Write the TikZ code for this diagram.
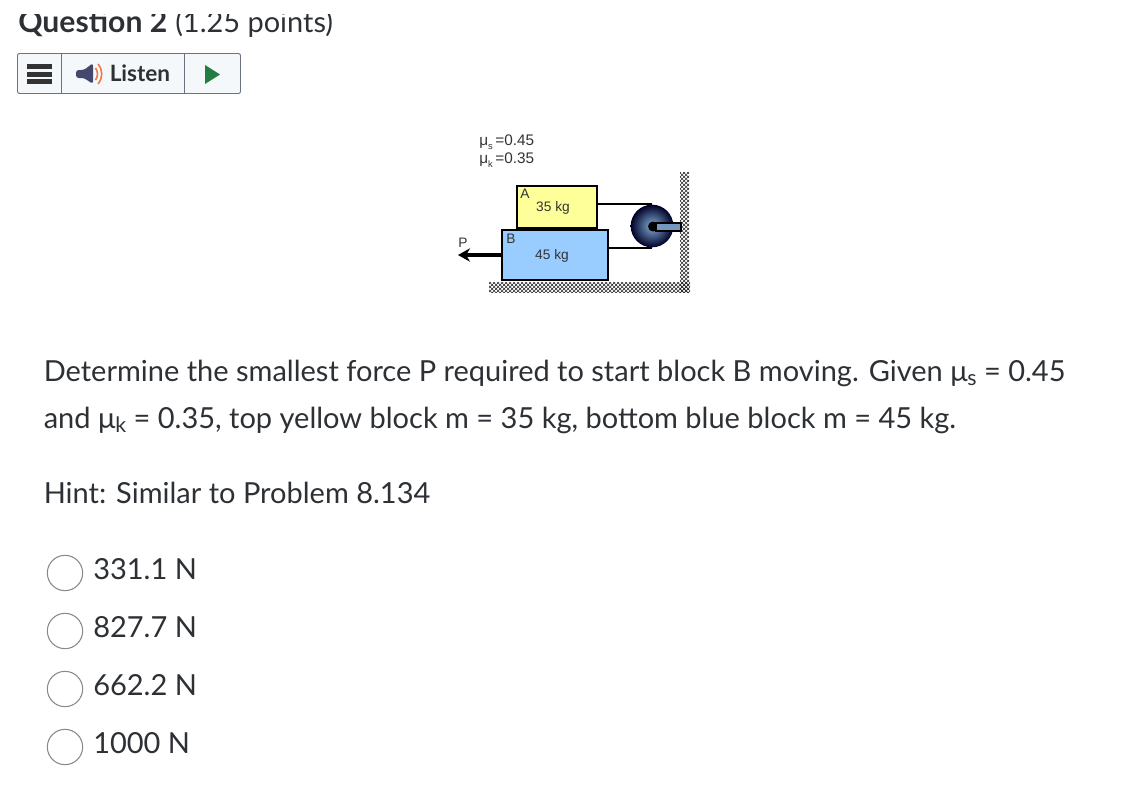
\documentclass[tikz,border=0pt]{standalone}
\usepackage{fontspec}
\setmainfont{Lato}
\newfontfamily\figfont{Liberation Sans}
\usetikzlibrary{patterns,shadings,arrows.meta}
\definecolor{txtcol}{HTML}{2D3135}
\definecolor{barline}{HTML}{6B7280}
\definecolor{barfill}{HTML}{F5F8FB}
\definecolor{spkcol}{HTML}{44476E}
\definecolor{wavecol}{HTML}{EE7B45}
\definecolor{playcol}{HTML}{217E40}
\definecolor{blocka}{HTML}{FFFF99}
\definecolor{blockb}{HTML}{99CCFF}
\definecolor{radiocol}{HTML}{868B90}
\newcommand{\musub}[1]{μ\raisebox{-3.6pt}{\fontsize{16}{18}\selectfont #1}}
\tikzset{
  body/.style={anchor=base west,inner sep=0pt,text=txtcol,font=\fontsize{21.75}{25}\selectfont},
  small/.style={inner sep=0pt,text=black!80,font=\figfont\fontsize{10.3}{12}\selectfont},
  blockbox/.style={draw=black,line width=1.6pt,inner sep=0pt},
  hatchbar/.style={pattern=crosshatch,pattern color=black!85},
  radio/.style={circle,draw=radiocol,fill=white,line width=0.8pt,minimum size=26.5pt,inner sep=0pt}
}
\begin{document}
\begin{tikzpicture}[x=0.75pt,y=-0.75pt]
\useasboundingbox (0,0) rectangle (1132,797);
\clip (0,0) rectangle (1132,797);
% heading
\node[body,font=\fontsize{22.6}{25}\selectfont\bfseries] (head) at (18,32.5) {Question 2};
\node[body,font=\fontsize{21.7}{25}\selectfont] (pts) at (175,32.5) {(1.25 points)};
\fill[white] (0,0) rectangle (400,14);
% toolbar
\draw[draw=barline,fill=barfill,line width=0.7pt,rounded corners=1.5pt] (17.5,53.5) rectangle (240.5,93.5);
\draw[barline,line width=0.7pt] (61.5,53.5) -- (61.5,93.5);
\draw[barline,line width=0.7pt] (184.5,53.5) -- (184.5,93.5);
\foreach \y in {64,71.5,79}
\fill[black!80] (27,\y) rectangle (52,\y+5);
\fill[spkcol,rounded corners=2pt] (76,70) -- (84,70) -- (93,63) -- (93,84) -- (84,78) -- (76,78) -- cycle;
\draw[wavecol,line width=1.2pt] (95.5,68) to[bend left=35] (95.5,80);
\draw[wavecol,line width=1.2pt] (98,64) to[bend left=40] (98,84);
\node[body,font=\fontsize{16.9}{18}\selectfont\bfseries] (listen) at (109.5,81) {Listen};
\fill[playcol] (205,65) -- (220,74.5) -- (205,84) -- cycle;
% figure
\node[small,anchor=base west,font=\figfont\fontsize{11.5}{13}\selectfont] (mus) at (479,145) {\musub{\fontsize{7}{8}\selectfont s}\,=0.45};
\node[small,anchor=base west,font=\figfont\fontsize{11.5}{13}\selectfont] (muk) at (479,163) {\musub{\fontsize{7}{8}\selectfont k}\,=0.35};
\path[hatchbar] (489,282) rectangle (690,292);
\path[hatchbar] (680,172) rectangle (689,292);
\node[blockbox,fill=blockb,minimum width=79.5pt,minimum height=37.5pt] (blockB) at (555,255) {};
\node[blockbox,fill=blocka,minimum width=60pt,minimum height=31.5pt] (blockA) at (557,207) {};
\node[small,anchor=north west] (labA) at (520,189) {A};
\node[small,anchor=north west] (labB) at (506,234) {B};
\node[small] (massA) at (553,208) {35 kg};
\node[small] (massB) at (552,256) {45 kg};
\coordinate (ropeA) at (652,204);
\coordinate (ropeB) at (652,248);
\draw[black,line width=0.9pt] (blockA.east |- ropeA) -- (ropeA);
\draw[black,line width=0.9pt] (blockB.east |- ropeB) -- (ropeB);
\node[circle,minimum size=32pt,inner sep=0pt,inner color=blockb!85!black,outer color=black!85!blue] (pulley) at (652,226) {};
\node[circle,fill=black,minimum size=7.5pt,inner sep=0pt] (hub) at (653,226.5) {};
\fill[blockb!75!black,draw=black,line width=0.9pt] (656,223) rectangle (681,231);
\node[small,anchor=south] (labP) at (463,248) {P};
\coordinate (arrowP) at (458,255);
\draw[-{Stealth[length=9pt,width=10pt]},line width=2.6pt] (blockB.west |- arrowP) -- (arrowP);
% question
\node[body] (line1) at (43.5,381) {Determine the smallest force P required to start block B moving. Given \musub{s} = 0.45};
\node[body] (line2) at (43.5,428) {and \musub{k} = 0.35, top yellow block m = 35 kg, bottom blue block m = 45 kg.};
\node[body] (hint) at (43.5,503) {Hint: Similar to Problem 8.134};
% options
\foreach \y/\ans/\nm in {573/331.1 N/a,631/827.7 N/b,689/662.2 N/c,747/1000 N/d}{
\node[radio] (radio\nm) at (65,\y) {};
\node[body] (opt\nm) at (93,\y+6) {\ans};
}
\end{tikzpicture}
\end{document}
